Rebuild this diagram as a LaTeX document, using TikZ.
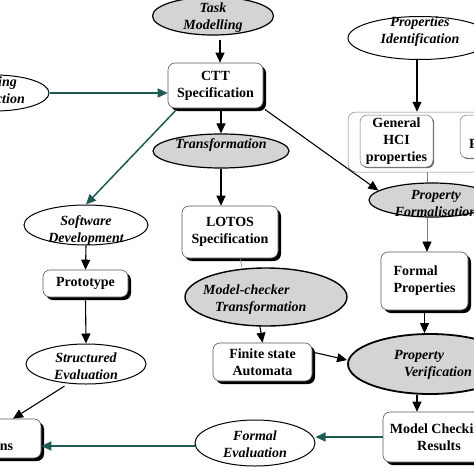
\documentclass[tikz,border=0pt]{standalone}
\usepackage{fontspec}
\setmainfont{Liberation Serif}
\usetikzlibrary{shapes.geometric,arrows.meta,shadows}
\definecolor{teal1}{HTML}{1E5B52}
\begin{document}
\begin{tikzpicture}[x=1pt,y=-1pt,
  every node/.style={font=\fontsize{14}{17}\selectfont\bfseries, inner sep=0pt, align=center},
  box/.style={draw=black!65, line width=0.6pt, rounded corners=7pt, fill=white,
    drop shadow={shadow xshift=3pt, shadow yshift=-3pt, fill=black, opacity=1}},
  ibox/.style={draw=black!55, line width=0.5pt, rounded corners=7pt, fill=white,
    drop shadow={shadow xshift=1.2pt, shadow yshift=-1.2pt, fill=black!60, opacity=1}},
  gell/.style={ellipse, draw, line width=1.2pt, fill=black!17},
  well/.style={ellipse, draw, line width=1pt, fill=white},
  etext/.style={font=\fontsize{14}{17}\selectfont\bfseries\itshape},
  arr/.style={line width=1.1pt, -{Triangle[length=10pt,width=9pt]}},
  tarr/.style={line width=1.5pt, draw=teal1, -{Triangle[length=10pt,width=9pt]}}]
\useasboundingbox (0,0) rectangle (474,474);
\clip (0,0) rectangle (474,474);
\fill[white] (0,0) rectangle (474,474);

% top / centre column
\node[gell, minimum width=121pt, minimum height=38pt] (task) at (213,16) {};
\node[etext] (taskt) at (213,18) {Task\\Modelling};
\node[box, minimum width=95pt, minimum height=45pt] (ctt) at (215.5,85.5) {CTT\\Specification};
\node[well, minimum width=108pt, minimum height=36pt] (req) at (-5,93) {};
\node[etext, anchor=east, align=right] (reqt) at (25,90) {Testing\hspace*{8pt}\\Interaction};
\node[gell, minimum width=136pt, minimum height=34pt] (trans) at (221,151) {};
\node[etext] (transt) at (221,145) {Transformation};
\node[box, minimum width=96pt, minimum height=52pt] (lotos) at (230,232) {LOTOS\\Specification};
\node[gell, line width=1.4pt, minimum width=162pt, minimum height=58pt] (mct) at (266,297) {};
\node[etext, anchor=west, align=left] (mctt) at (203,300) {Model-checker\\\hspace*{12pt}Transformation};
\node[box, minimum width=99pt, minimum height=38pt] (fsa) at (262.5,362) {Finite state\\Automata};

% left column
\node[well, minimum width=124pt, minimum height=40pt] (sw) at (86,225) {};
\node[etext] (swt) at (86,231) {Software\\Development};
\node[box, minimum width=85pt, minimum height=27pt] (proto) at (85.5,283.5) {Prototype};
\node[well, minimum width=120pt, minimum height=40pt] (se) at (86,364) {};
\node[etext] (set) at (86,366) {Structured\\Evaluation};
\node[box, minimum width=126pt, minimum height=39pt] (concl) at (-22,438.5) {Design\\Suggestions};
\node[well, minimum width=120pt, minimum height=46pt] (feval) at (255,443) {};
\node[etext] (fevalt) at (255,444) {Formal\\Evaluation};

% right column
\node[well, minimum width=144pt, minimum height=43pt] (pid) at (420,38) {};
\node[etext] (pidt) at (420,32) {Properties\\Identification};
\node[draw=black!50, line width=0.5pt, rounded corners=8pt, minimum width=212pt, minimum height=60pt] (group) at (454,142) {};
\node[ibox, minimum width=73pt, minimum height=52pt] (ghci) at (396.5,141) {General\\HCI\\properties};
\node[ibox, minimum width=80pt, minimum height=43pt] (spec) at (500,136.5) {Specific\\Properties};
\node[gell, minimum width=126pt, minimum height=34pt] (pform) at (432,200) {};
\node[etext] (pformt) at (436,203) {Property\\Formalisation};
\node[box, minimum width=87pt, minimum height=58pt, align=left] (fprop) at (424.5,281) {Formal\\Properties};
\node[gell, line width=1.8pt, minimum width=164pt, minimum height=60pt] (pver) at (430,364) {};
\node[etext, anchor=west, align=left] (pvert) at (394,365) {Property\\\hspace*{10pt}Verification};
\node[box, minimum width=112pt, minimum height=50pt] (mcr) at (439,437) {Model Checking\\Results};

% connectors
\draw[arr, shorten <=4pt] ([xshift=7pt]task.south) -- ([xshift=4.5pt]ctt.north);
\draw[tarr] (req.east) -- (req.east -| ctt.west);
\draw[arr, shorten <=3pt] (trans.north |- ctt.south) -- (trans.north);
\draw[arr] (trans.south) -- (trans.south |- lotos.north);
\draw[gray, line width=0.6pt] ([xshift=10pt]lotos.south) -- ([xshift=-24pt]mct.north);
\draw[arr] ([xshift=-6pt]mct.south) -- (fsa.north);
\draw[arr, shorten <=3pt] ([yshift=10pt]fsa.east) -- ([yshift=4pt]pver.west);
\draw[tarr, shorten <=3pt] ([xshift=10pt]ctt.south west) -- (sw.north);
\draw[arr] (sw.south) -- (proto.north);
\draw[arr, shorten <=3pt] (proto.south) -- (se.north);
\draw[arr, shorten <=3pt] ([xshift=-19pt]se.south) -- ([xshift=35pt]concl.north);
\draw[tarr] ([yshift=-3pt]feval.west) -- ([yshift=-3pt]feval.west -| concl.east);
\draw[tarr] (mcr.west) -- (mcr.west -| feval.east);
\draw[arr] ([xshift=-22pt]mcr.north |- pver.south) -- ([xshift=-22pt]mcr.north);
\draw[arr, shorten <=3pt] (fprop.south) -- (fprop.south |- pver.north);
\draw[gray, line width=0.5pt, -{Triangle[length=10pt,width=9pt,color=black]}] ([xshift=-5pt]pform.south) -- ([xshift=-5pt]pform.south |- fprop.north);
\draw[gray, line width=0.5pt] ([xshift=-27pt]group.south) -- ([xshift=-27pt]group.south |- pform.north);
\draw[arr] ([xshift=-3pt]pid.south) -- ([xshift=-3pt]pid.south |- group.north);
\draw[arr, shorten <=2pt] (ctt.south east) -- (pform.170);
\end{tikzpicture}
\end{document}
